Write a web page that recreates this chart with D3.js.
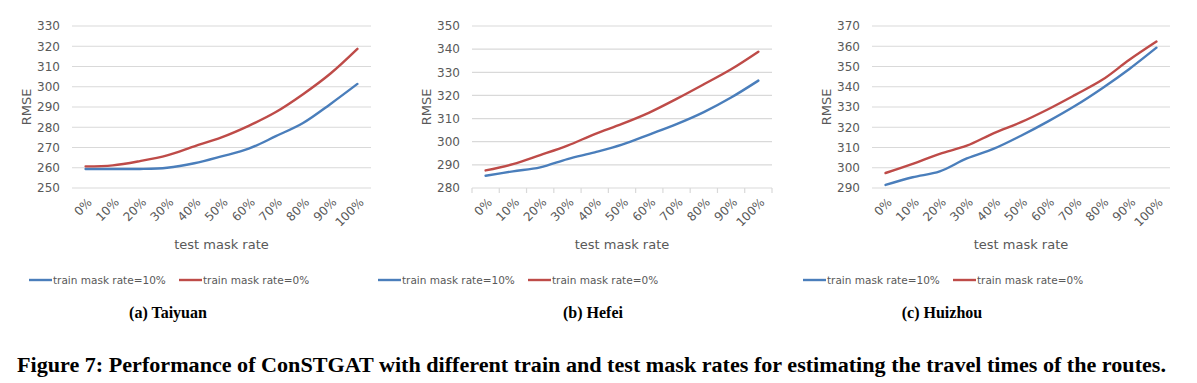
<!DOCTYPE html>
<html><head><meta charset="utf-8">
<script src="https://cdn.jsdelivr.net/npm/d3@7"></script>
<style>body{margin:0;background:#fff}svg{display:block}</style>
</head><body>
<svg id="c" width="1197" height="383"></svg>
<script>
const categories = ["0%","10%","20%","30%","40%","50%","60%","70%","80%","90%","100%"];
const seriesNames = ["train mask rate=10%","train mask rate=0%"];
const taiyuan10 = [259.4,259.4,259.4,260.0,262.2,265.6,269.4,275.6,282.1,291.4,301.4];
const taiyuan0  = [260.7,261.2,263.3,266.1,270.6,275.0,280.7,287.5,296.3,306.4,318.7];
const hefei10   = [285.3,287.2,288.9,292.5,295.4,298.7,303.1,307.6,312.8,319.1,326.4];
const hefei0    = [287.6,290.3,294.2,298.3,303.3,307.7,312.6,318.5,324.8,331.3,338.9];
const huizhou10 = [291.5,295.3,298.2,304.6,309.4,315.8,322.9,330.6,339.3,348.8,359.3];
const huizhou0  = [297.4,301.9,306.9,310.9,317.1,322.5,328.9,336.0,343.4,353.3,362.3];
const taiyuanTicks = [250,260,270,280,290,300,310,320,330];
const hefeiTicks   = [280,290,300,310,320,330,340,350];
const huizhouTicks = [290,300,310,320,330,340,350,360,370];
const subcaptions = ["(a) Taiyuan","(b) Hefei","(c) Huizhou"];
const caption = "Figure 7: Performance of ConSTGAT with different train and test mask rates for estimating the travel times of the routes.";
const xTitle = "test mask rate", yTitle = "RMSE";

const colors = ["#4a7ebb","#be4b48"];
const svg = d3.select("#c");
const sans = "'DejaVu Sans', Verdana, sans-serif";
const serif = "'Liberation Serif', 'DejaVu Serif', serif";

const panels = [
  {x0:72, x1:371, ticks:taiyuanTicks, s:[taiyuan10,taiyuan0], axis:false, cap:subcaptions[0], capX:168, leg:29},
  {x0:472, x1:772, ticks:hefeiTicks, s:[hefei10,hefei0], axis:true, cap:subcaptions[1], capX:593, leg:378},
  {x0:872, x1:1170, ticks:huizhouTicks, s:[huizhou10,huizhou0], axis:false, cap:subcaptions[2], capX:942, leg:803}
];
const yTop = 26, yBot = 188;

panels.forEach(p => {
  const g = svg.append("g");
  const x = d3.scaleBand().domain(categories).range([p.x0, p.x1]);
  const y = d3.scaleLinear().domain(d3.extent(p.ticks)).range([yBot, yTop]);
  // gridlines
  g.selectAll("line.grid").data(p.ticks).join("line")
    .attr("x1", p.x0).attr("x2", p.x1)
    .attr("y1", d => y(d)).attr("y2", d => y(d))
    .attr("stroke", "#d9d9d9").attr("stroke-width", 1.2);
  if (p.axis) {
    const ticksX = categories.map(c => x(c)).concat([p.x1]);
    g.selectAll("line.tk").data(ticksX).join("line")
      .attr("x1", d => d).attr("x2", d => d).attr("y1", yBot).attr("y2", yBot + 5)
      .attr("stroke", "#d9d9d9").attr("stroke-width", 1.2);
  }
  // y labels
  g.selectAll("text.yl").data(p.ticks).join("text")
    .attr("x", p.x0 - 12).attr("y", d => y(d)).attr("dy", "0.36em")
    .attr("text-anchor", "end").attr("font-family", sans).attr("font-size", 12)
    .attr("fill", "#595959").text(d => d);
  // x labels
  g.selectAll("text.xl").data(categories).join("text")
    .attr("transform", d => `translate(${x(d) + x.bandwidth()/2 + 4},${yBot + 12}) rotate(-45)`)
    .attr("text-anchor", "end").attr("dy", "0.36em")
    .attr("font-family", sans).attr("font-size", 12).attr("fill", "#595959").text(d => d);
  // titles
  g.append("text").attr("x", (p.x0 + p.x1) / 2).attr("y", 249).attr("text-anchor", "middle")
    .attr("font-family", sans).attr("font-size", 13).attr("fill", "#595959").text(xTitle);
  g.append("text").attr("transform", `translate(${p.x0 - 41},${(yTop + yBot) / 2}) rotate(-90)`)
    .attr("text-anchor", "middle").attr("font-family", sans).attr("font-size", 13)
    .attr("fill", "#595959").text(yTitle);
  // lines
  const line = d3.line().x((d, i) => x(categories[i]) + x.bandwidth() / 2).y(d => y(d))
    .curve(d3.curveCatmullRom.alpha(0.5));
  p.s.forEach((s, k) => {
    g.append("path").datum(s).attr("d", line).attr("fill", "none")
      .attr("stroke", colors[k]).attr("stroke-width", 2.4).attr("stroke-linecap", "round");
  });
  // legend
  let lx = p.leg;
  seriesNames.forEach((n, k) => {
    g.append("line").attr("x1", lx).attr("x2", lx + 23).attr("y1", 280).attr("y2", 280)
      .attr("stroke", colors[k]).attr("stroke-width", 2.4);
    const t = g.append("text").attr("x", lx + 24).attr("y", 280).attr("dy", "0.36em")
      .attr("font-family", sans).attr("font-size", 10.5).attr("fill", "#595959").text(n);
    lx += 150;
  });
  // subcaption
  g.append("text").attr("x", p.capX).attr("y", 318).attr("text-anchor", "middle")
    .attr("font-family", serif).attr("font-weight", "bold").attr("font-size", 16)
    .attr("fill", "#000").text(p.cap);
});

svg.append("text").attr("x", 17).attr("y", 372).attr("font-family", serif)
  .attr("font-weight", "bold").attr("font-size", 20).attr("fill", "#000")
  .attr("textLength", 1149).attr("lengthAdjust", "spacingAndGlyphs").text(caption);
</script>
</body></html>
